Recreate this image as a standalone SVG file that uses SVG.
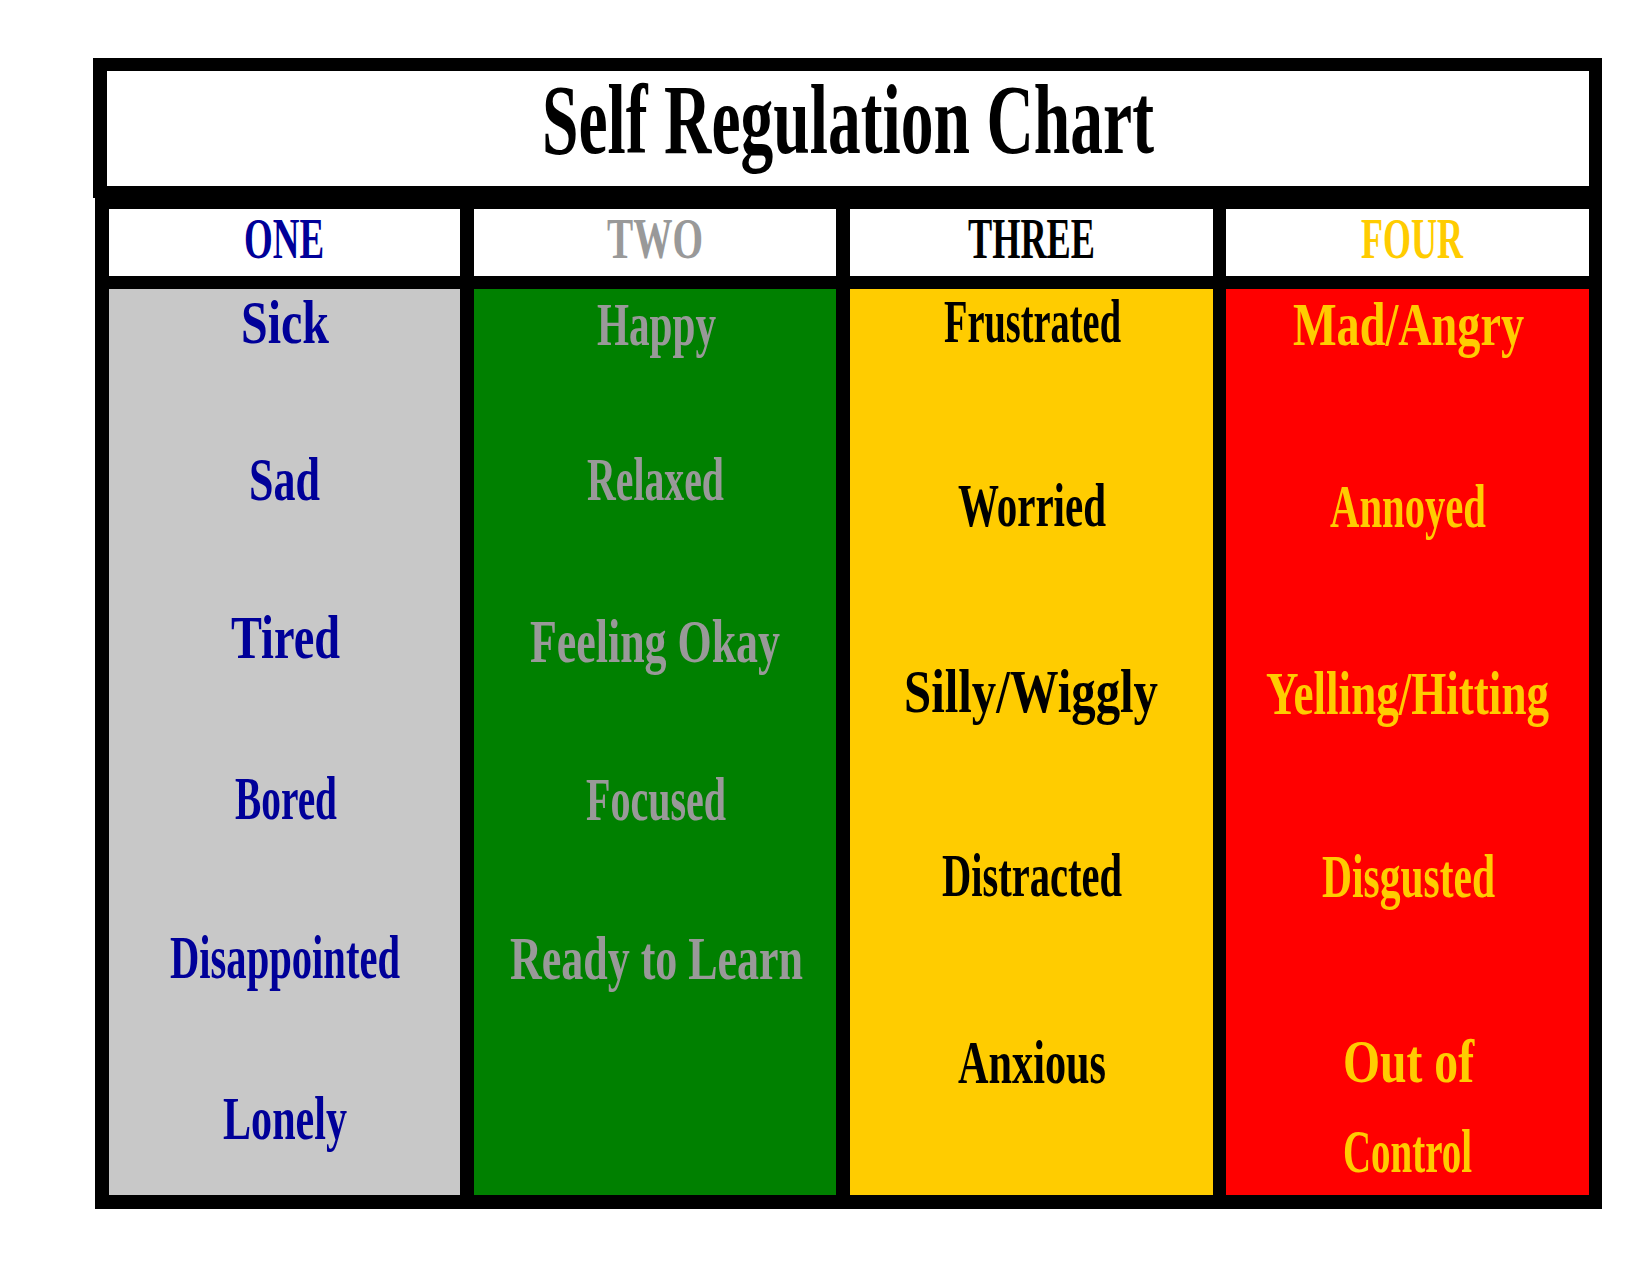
<svg xmlns="http://www.w3.org/2000/svg" width="1650" height="1275" viewBox="0 0 1650 1275">
<style>
text{font-family:"Liberation Serif","DejaVu Serif",serif;font-weight:700;font-size:62px;text-anchor:start}
.title{font-size:100px;fill:#000}
.hd{font-size:58px}
.blue{fill:#000099}.grey{fill:#999999}.black{fill:#000}.gold{fill:#FFCC00}
.white{fill:#fff}
</style>
<rect width="1650" height="1275" fill="#fff"/>
<g id="frame">
<rect x="93" y="58" width="1509" height="140" fill="#000"/>
<rect x="95" y="190" width="1507" height="1019" fill="#000"/>
</g>
<g id="title">
<rect class="white" x="107" y="71" width="1482" height="115"/>
<text class="title" x="542" y="153" textLength="612" lengthAdjust="spacingAndGlyphs">Self Regulation Chart</text>
</g>
<g id="column-one">
<rect class="white" x="109" y="209" width="351" height="67"/>
<text class="hd blue" x="244" y="258" textLength="80" lengthAdjust="spacingAndGlyphs">ONE</text>
<rect x="109" y="289" width="351" height="906" fill="#C8C8C8"/>
<text class="blue" x="241" y="343" textLength="88" lengthAdjust="spacingAndGlyphs">Sick</text>
<text class="blue" x="249" y="500" textLength="71" lengthAdjust="spacingAndGlyphs">Sad</text>
<text class="blue" x="231" y="658" textLength="109" lengthAdjust="spacingAndGlyphs">Tired</text>
<text class="blue" x="235" y="819" textLength="102" lengthAdjust="spacingAndGlyphs">Bored</text>
<text class="blue" x="170" y="978" textLength="230" lengthAdjust="spacingAndGlyphs">Disappointed</text>
<text class="blue" x="223" y="1139" textLength="124" lengthAdjust="spacingAndGlyphs">Lonely</text>
</g>
<g id="column-two">
<rect class="white" x="474" y="209" width="362" height="67"/>
<text class="hd grey" x="607" y="258" textLength="96" lengthAdjust="spacingAndGlyphs">TWO</text>
<rect x="474" y="289" width="362" height="906" fill="#008000"/>
<text class="grey" x="597" y="345" textLength="119" lengthAdjust="spacingAndGlyphs">Happy</text>
<text class="grey" x="587" y="500" textLength="137" lengthAdjust="spacingAndGlyphs">Relaxed</text>
<text class="grey" x="530" y="662" textLength="250" lengthAdjust="spacingAndGlyphs">Feeling Okay</text>
<text class="grey" x="586" y="820" textLength="140" lengthAdjust="spacingAndGlyphs">Focused</text>
<text class="grey" x="510" y="979" textLength="293" lengthAdjust="spacingAndGlyphs">Ready to Learn</text>
</g>
<g id="column-three">
<rect class="white" x="850" y="209" width="363" height="67"/>
<text class="hd black" x="968" y="258" textLength="127" lengthAdjust="spacingAndGlyphs">THREE</text>
<rect x="850" y="289" width="363" height="906" fill="#FFCC00"/>
<text class="black" x="944" y="342" textLength="177" lengthAdjust="spacingAndGlyphs">Frustrated</text>
<text class="black" x="958" y="526" textLength="148" lengthAdjust="spacingAndGlyphs">Worried</text>
<text class="black" x="904" y="712" textLength="254" lengthAdjust="spacingAndGlyphs">Silly/Wiggly</text>
<text class="black" x="942" y="896" textLength="180" lengthAdjust="spacingAndGlyphs">Distracted</text>
<text class="black" x="958" y="1083" textLength="148" lengthAdjust="spacingAndGlyphs">Anxious</text>
</g>
<g id="column-four">
<rect class="white" x="1226" y="209" width="363" height="67"/>
<text class="hd gold" x="1361" y="258" textLength="102" lengthAdjust="spacingAndGlyphs">FOUR</text>
<rect x="1226" y="289" width="363" height="906" fill="#FF0000"/>
<text class="gold" x="1293" y="345" textLength="231" lengthAdjust="spacingAndGlyphs">Mad/Angry</text>
<text class="gold" x="1330" y="527" textLength="156" lengthAdjust="spacingAndGlyphs">Annoyed</text>
<text class="gold" x="1266" y="714" textLength="283" lengthAdjust="spacingAndGlyphs">Yelling/Hitting</text>
<text class="gold" x="1322" y="897" textLength="173" lengthAdjust="spacingAndGlyphs">Disgusted</text>
<text class="gold" x="1343" y="1082" textLength="131" lengthAdjust="spacingAndGlyphs">Out of</text>
<text class="gold" x="1343" y="1172" textLength="129" lengthAdjust="spacingAndGlyphs">Control</text>
</g>
</svg>
